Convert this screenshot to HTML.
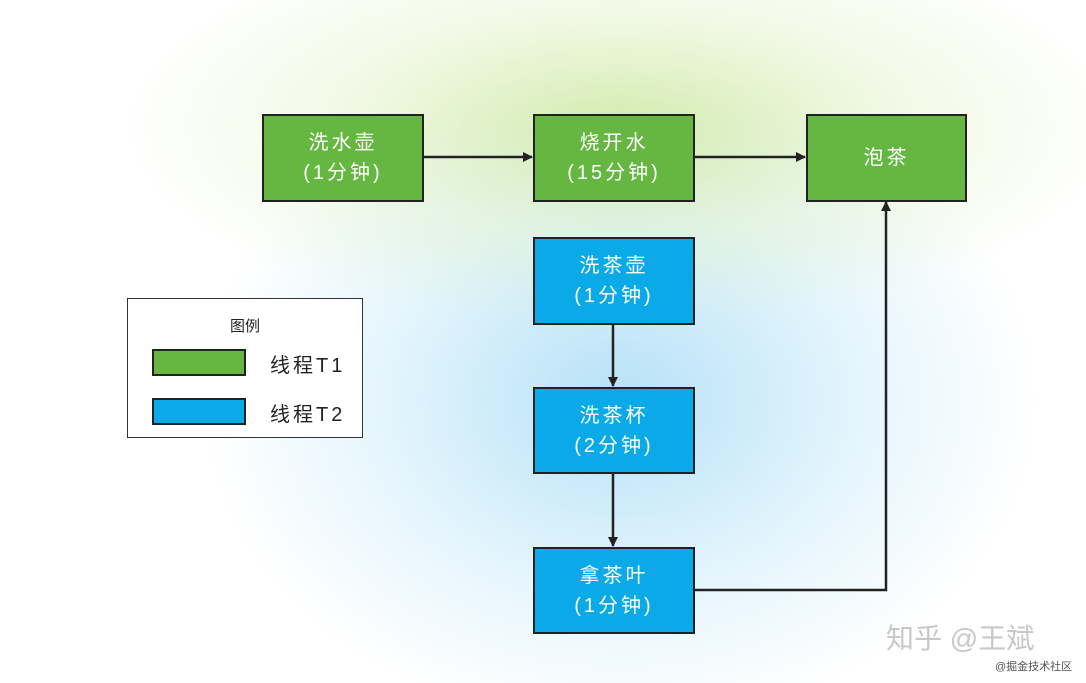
<!DOCTYPE html>
<html><head><meta charset="utf-8"><style>
body{margin:0;width:1086px;height:683px;overflow:hidden;background:#fff;font-family:"Liberation Sans","Noto Sans CJK SC",sans-serif;}
.bg{position:absolute;left:0;top:0;width:1086px;height:683px;
background:
radial-gradient(ellipse 500px 200px at 620px 125px, rgba(200,230,150,0.75), rgba(220,240,190,0.4) 55%, rgba(255,255,255,0) 100%),
radial-gradient(ellipse 420px 330px at 620px 400px, rgba(170,220,245,0.85), rgba(200,235,250,0.45) 60%, rgba(255,255,255,0) 100%);}
.b{position:absolute;border:2px solid #222;box-sizing:border-box;color:#fff;font-size:20px;display:flex;align-items:center;justify-content:center;text-align:center;line-height:30px;letter-spacing:3px}
.g{background:#65b741}.u{background:#0aa9e8}
</style></head><body>
<div class="bg"></div>
<svg width="1086" height="683" style="position:absolute;left:0;top:0">
<defs><marker id="a" markerWidth="10" markerHeight="10" refX="9" refY="5" orient="auto" markerUnits="userSpaceOnUse"><path d="M0,0 L10,5 L0,10 z" fill="#222"/></marker></defs>
<g stroke="#222" stroke-width="2.5" fill="none">
<line x1="423" y1="157" x2="532" y2="157" marker-end="url(#a)"/>
<line x1="694" y1="157" x2="805" y2="157" marker-end="url(#a)"/>
<line x1="613" y1="324" x2="613" y2="386" marker-end="url(#a)"/>
<line x1="613" y1="473" x2="613" y2="546" marker-end="url(#a)"/>
<polyline points="694,590 886,590 886,202" marker-end="url(#a)"/>
</g></svg>
<div class="b g" style="left:262px;top:114px;width:162px;height:88px">洗水壶<br>(1分钟)</div>
<div class="b g" style="left:533px;top:114px;width:162px;height:88px">烧开水<br>(15分钟)</div>
<div class="b g" style="left:806px;top:114px;width:161px;height:88px">泡茶</div>
<div class="b u" style="left:533px;top:237px;width:162px;height:88px">洗茶壶<br>(1分钟)</div>
<div class="b u" style="left:533px;top:387px;width:162px;height:87px">洗茶杯<br>(2分钟)</div>
<div class="b u" style="left:533px;top:547px;width:162px;height:87px">拿茶叶<br>(1分钟)</div>
<div style="position:absolute;left:127px;top:298px;width:236px;height:140px;box-sizing:border-box;border:1.5px solid #333;background:#fff">
<div style="position:absolute;left:0;width:100%;top:16px;text-align:center;font-size:15px;color:#222">图例</div>
<div style="position:absolute;left:24px;top:50px;width:94px;height:27px;box-sizing:border-box;border:2px solid #222;background:#65b741"></div>
<div style="position:absolute;left:24px;top:99px;width:94px;height:27px;box-sizing:border-box;border:2px solid #222;background:#0aa9e8"></div>
<div style="position:absolute;left:142px;top:50px;font-size:20px;color:#222;letter-spacing:3px">线程T1</div>
<div style="position:absolute;left:142px;top:99px;font-size:20px;color:#222;letter-spacing:3px">线程T2</div>
</div>
<div style="position:absolute;left:886px;top:617px;font-size:28px;color:#c8c8c8">知乎 @王斌</div>
<div style="position:absolute;left:995px;top:658px;font-size:11px;color:#555">@掘金技术社区</div>
</body></html>
